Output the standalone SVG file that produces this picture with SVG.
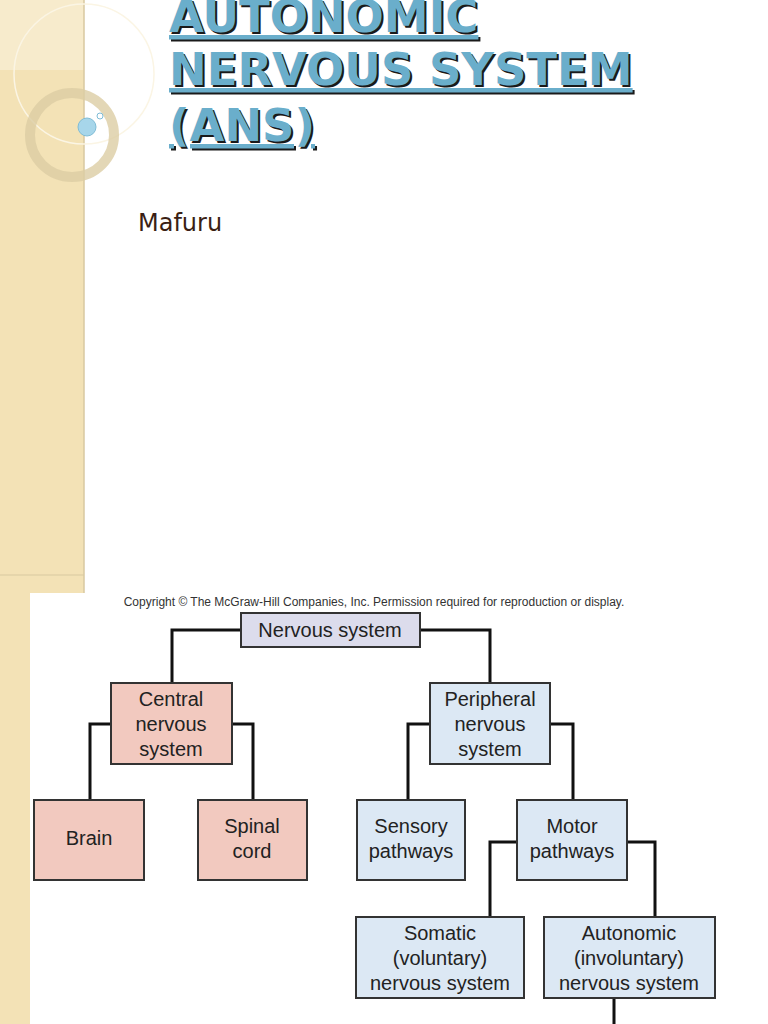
<svg xmlns="http://www.w3.org/2000/svg" width="768" height="1024" viewBox="0 0 768 1024">
<style>
.t{font-family:"DejaVu Sans",sans-serif;font-weight:bold;font-size:45px;fill:#6aaecb;text-decoration:underline}
.ts{font-family:"DejaVu Sans",sans-serif;font-weight:bold;font-size:45px;fill:#1a1a1a;text-decoration:underline}
.n{stroke:#333;stroke-width:2}
.l{font-family:"Liberation Sans",Arial,sans-serif;font-size:20px;fill:#222;text-anchor:middle}
.c{fill:none;stroke:#111;stroke-width:3}
</style>
<rect width="768" height="1024" fill="#fff"/>
<rect x="0" y="0" width="84" height="1024" fill="#f3e2b6"/>
<rect x="0" y="0" width="84" height="70" fill="#f7ebcc"/>
<line x1="84" y1="0" x2="84" y2="593" stroke="#d8c9a0" stroke-width="1.5"/>
<line x1="0" y1="575" x2="84" y2="575" stroke="#d8c9a0" stroke-width="1"/>
<circle cx="84" cy="74" r="70" fill="none" stroke="#fbf5e4" stroke-width="1.5"/>
<circle cx="72" cy="135" r="42" fill="none" stroke="#dccda4" stroke-width="10" opacity="0.8"/>
<circle cx="87" cy="127" r="9" fill="#a7d6ea" stroke="#7fbcd6"/>
<circle cx="100" cy="116" r="3" fill="#fff" stroke="#7fbcd6"/>
<rect x="30" y="593" width="738" height="431" fill="#fff"/>
<g id="title">
<text class="ts" x="171" y="34">AUTONOMIC</text><text class="t" x="169" y="32">AUTONOMIC</text>
<text class="ts" x="171" y="87">NERVOUS SYSTEM</text><text class="t" x="169" y="85">NERVOUS SYSTEM</text>
<text class="ts" x="171" y="143">(ANS)</text><text class="t" x="169" y="141">(ANS)</text>
</g>
<text x="138" y="231" font-family="DejaVu Sans,sans-serif" font-size="24" fill="#3b1f14">Mafuru</text>
<text x="374" y="606" font-family="Liberation Sans,Arial,sans-serif" font-size="12" fill="#333" text-anchor="middle">Copyright © The McGraw-Hill Companies, Inc. Permission required for reproduction or display.</text>
<g id="connectors">
<path class="c" d="M241 630H172V683M420 630H490V683M111 724H90V800M232 724H253V800M430 724H408V800M550 724H573V800M517 842H490V917M627 842H655V917M614 998V1024"/>
</g>
<g id="nervous"><rect class="n" x="241" y="613" width="179" height="34" fill="#dcdcec"/><text class="l" x="330" y="637">Nervous system</text></g>
<g id="cns"><rect class="n" x="111" y="683" width="121" height="81" fill="#f2c9bf"/><text class="l" x="171" y="706">Central</text><text class="l" x="171" y="731">nervous</text><text class="l" x="171" y="756">system</text></g>
<g id="pns"><rect class="n" x="430" y="683" width="120" height="81" fill="#dce8f4"/><text class="l" x="490" y="706">Peripheral</text><text class="l" x="490" y="731">nervous</text><text class="l" x="490" y="756">system</text></g>
<g id="brain"><rect class="n" x="34" y="800" width="110" height="80" fill="#f2c9bf"/><text class="l" x="89" y="845">Brain</text></g>
<g id="spinal"><rect class="n" x="198" y="800" width="109" height="80" fill="#f2c9bf"/><text class="l" x="252" y="833">Spinal</text><text class="l" x="252" y="858">cord</text></g>
<g id="sensory"><rect class="n" x="357" y="800" width="108" height="80" fill="#dce8f4"/><text class="l" x="411" y="833">Sensory</text><text class="l" x="411" y="858">pathways</text></g>
<g id="motor"><rect class="n" x="517" y="800" width="110" height="80" fill="#dce8f4"/><text class="l" x="572" y="833">Motor</text><text class="l" x="572" y="858">pathways</text></g>
<g id="somatic"><rect class="n" x="356" y="917" width="168" height="81" fill="#dce8f4"/><text class="l" x="440" y="940">Somatic</text><text class="l" x="440" y="965">(voluntary)</text><text class="l" x="440" y="990">nervous system</text></g>
<g id="autonomic"><rect class="n" x="544" y="917" width="171" height="81" fill="#dce8f4"/><text class="l" x="629" y="940">Autonomic</text><text class="l" x="629" y="965">(involuntary)</text><text class="l" x="629" y="990">nervous system</text></g>
</svg>
